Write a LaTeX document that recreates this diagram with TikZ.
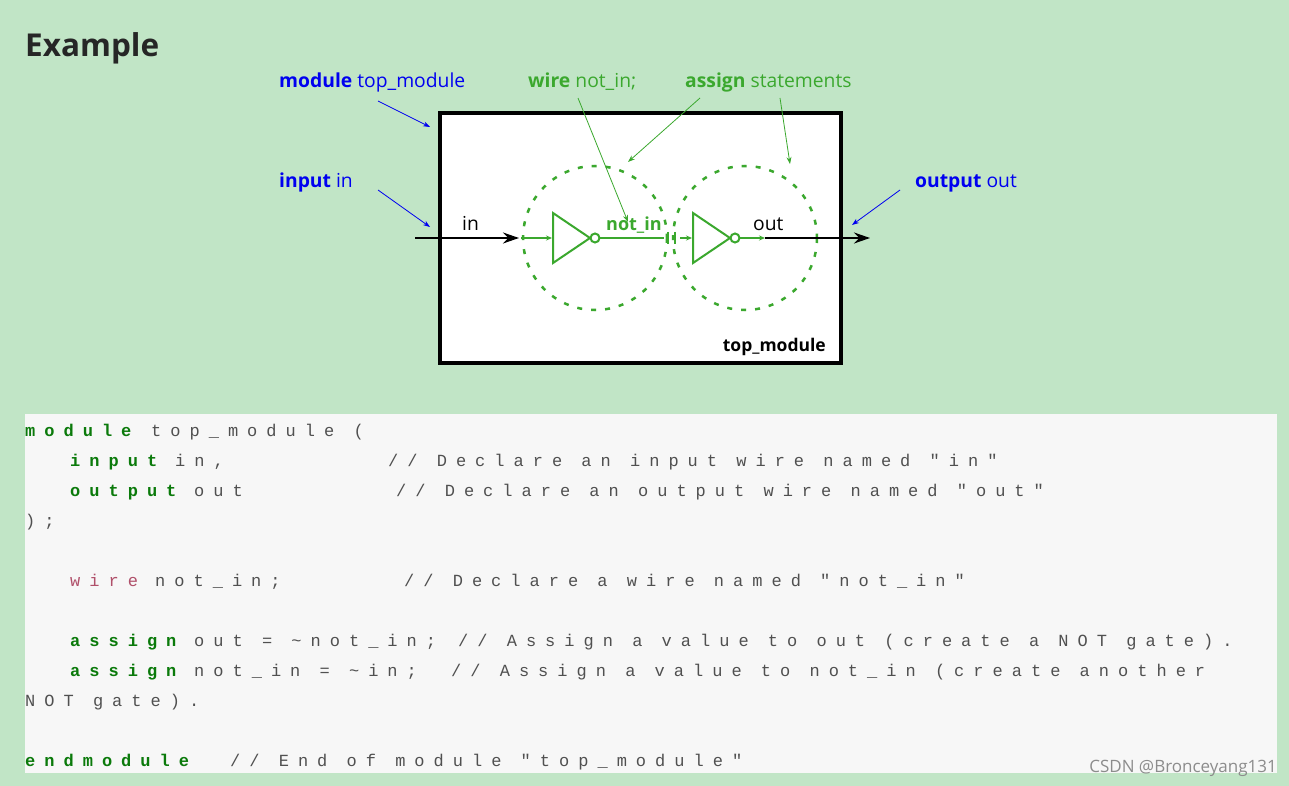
\documentclass[tikz,border=0pt]{standalone}
\usepackage{fontspec}
\setmainfont{Open Sans}
\newfontfamily\codefont[LetterSpace=53]{Liberation Mono}
\usetikzlibrary{arrows.meta}
\definecolor{bg}{HTML}{C1E5C6}
\definecolor{codebg}{HTML}{F7F7F7}
\definecolor{gr}{HTML}{3BA82E}
\definecolor{kw}{HTML}{0B7A0B}
\definecolor{ct}{HTML}{505050}
\definecolor{wr}{HTML}{B0506A}
\definecolor{bl}{HTML}{0000F0}
\begin{document}
\begin{tikzpicture}[x=1pt,y=-1pt,
  lbl/.style={anchor=base west,inner sep=0,font=\fontsize{19.3}{21}\selectfont},
  code/.style={anchor=base west,inner sep=0,text=ct,font=\fontsize{17}{19}\codefont},
  kwd/.style={code,text=kw,font=\fontsize{17}{19}\codefont\bfseries},
  barrow/.style={-{Stealth[length=7pt,width=5pt]},bl,line width=0.8pt},
  garrow/.style={-{Stealth[length=7pt,width=5pt]},gr,line width=0.8pt},
  wirearrow/.style={-{Stealth[length=16pt,width=11pt]},line width=2pt}]
\fill[bg] (0,0) rectangle (1289,786);
\useasboundingbox (0,0) rectangle (1289,786);
\node[anchor=base west,inner sep=0,text=black!85,font=\fontsize{31.5}{34}\selectfont\bfseries] (ex) at (25,57) {Example};
% module box
\draw[line width=4pt,fill=white] (440,113) rectangle (841,363);
\node[anchor=base east,inner sep=0,font=\fontsize{17.5}{20}\selectfont\bfseries] (tm) at (826,351) {top\_module};
% circles
\draw[gr,dash pattern=on 5pt off 9pt,line width=2.5pt] (595,238) circle (72);
\draw[gr,dash pattern=on 5pt off 9pt,line width=2.5pt] (745,238) circle (72);
% gates
\draw[gr,line width=2pt] (553,213) -- (590,238) -- (553,263) -- cycle;
\draw[gr,line width=2pt] (595,238) circle (4.5);
\draw[gr,line width=2pt] (693,213) -- (730,238) -- (693,263) -- cycle;
\draw[gr,line width=2pt] (735,238) circle (4.5);
% wires
\coordinate (w0) at (415,238); \coordinate (w1) at (519,238);
\draw[wirearrow] (w0) -- (w1);
\draw[gr,line width=1.2pt,-{Stealth[length=6pt,width=5pt]}] (521,238) -- (552,238);
\draw[gr,line width=1.2pt] (600,238) -- (664,238);
\draw[gr,line width=1.2pt] (668,232) -- (668,244) (675,232) -- (675,244);
\draw[gr,line width=1.2pt,-{Stealth[length=6pt,width=5pt]}] (680,238) -- (692,238);
\draw[gr,line width=1.2pt,-{Stealth[length=6pt,width=5pt]}] (740,238) -- (765,238);
\coordinate (o0) at (765,238); \coordinate (o1) at (870,238);
\draw[wirearrow] (o0) -- (o1);
\node[lbl] (lin) at (462,231) {in};
\node[lbl,text=gr,font=\fontsize{18}{20}\selectfont\bfseries] (lni) at (606,231) {not\_in};
\node[lbl] (lout) at (753,231) {out};
% annotations
\node[lbl,text=bl] (amod) at (279,88) {\textbf{module} top\_module};
\node[lbl,text=bl] (ain) at (279,188) {\textbf{input} in};
\node[lbl,text=bl] (aout) at (915,188) {\textbf{output} out};
\node[lbl,text=gr] (awire) at (528,88) {\textbf{wire} not\_in;};
\node[lbl,text=gr] (aas) at (685,88) {\textbf{assign} statements};
\draw[barrow] (378,101) -- (430,127);
\draw[barrow] (378,190) -- (430,227);
\draw[barrow] (900,190) -- (852,225);
\draw[garrow] (578,98) -- (628,222);
\draw[garrow] (700,98) -- (628,162);
\draw[garrow] (780,98) -- (790,164);
% code
\fill[codebg] (25,414) rectangle (1277,773);
\node[kwd] (c1a) at (25,436) {module};
\node[code] (c1b) at (151,436) {top\_module (};
\node[kwd] (c2a) at (70,466) {input};
\node[code] (c2b) at (175,466) {in,};
\node[code] (c2c) at (388,466) {// Declare an input wire named "in"};
\node[kwd] (c3a) at (70,496) {output};
\node[code] (c3b) at (194,496) {out};
\node[code] (c3c) at (396,496) {// Declare an output wire named "out"};
\node[code] (c4) at (25,526) {);};
\node[code,text=wr] (c5a) at (70,586) {wire};
\node[code] (c5b) at (155,586) {not\_in;};
\node[code] (c5c) at (404,586) {// Declare a wire named "not\_in"};
\node[kwd] (c6a) at (70,646) {assign};
\node[code] (c6b) at (194,646) {out = \char`~not\_in;};
\node[code] (c6c) at (458,646) {// Assign a value to out (create a NOT gate).};
\node[kwd] (c7a) at (70,676) {assign};
\node[code] (c7b) at (194,676) {not\_in = \char`~in;};
\node[code] (c7c) at (451,676) {// Assign a value to not\_in (create another};
\node[code] (c8) at (25,706) {NOT gate).};
\node[kwd] (c9a) at (25,766) {endmodule};
\node[code] (c9b) at (230,766) {// End of module "top\_module"};
\node[anchor=base east,inner sep=0,text=black!45,font=\fontsize{17}{20}\selectfont] (wm) at (1277,772) {CSDN @Bronceyang131};
\end{tikzpicture}
\end{document}
